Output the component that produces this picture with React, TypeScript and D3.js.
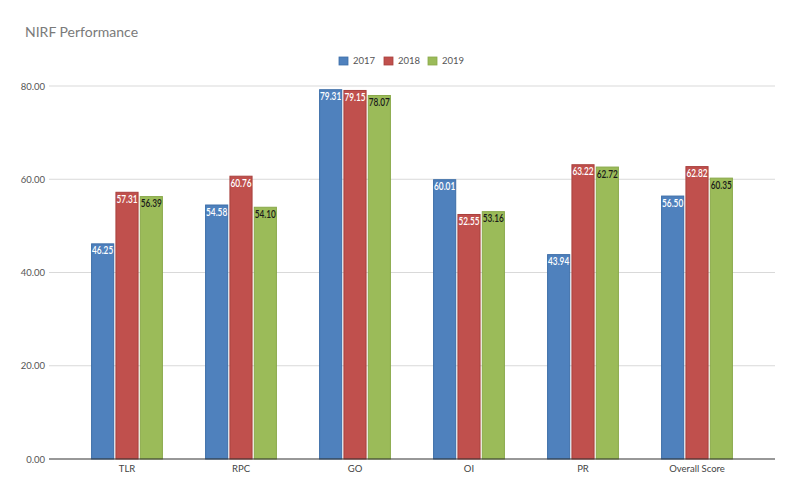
import { format, scaleBand, scaleLinear } from 'd3';

const categories = ['TLR', 'RPC', 'GO', 'OI', 'PR', 'Overall Score'];
const seriesNames = ['2017', '2018', '2019'];
const values2017 = [46.25, 54.58, 79.31, 60.01, 43.94, 56.5];
const values2018 = [57.31, 60.76, 79.15, 52.55, 63.22, 62.82];
const values2019 = [56.39, 54.1, 78.07, 53.16, 62.72, 60.35];
const yTicks = [0, 20, 40, 60, 80];

const seriesValues = [values2017, values2018, values2019];
const fills = ['#4f81bd', '#c0504d', '#9bbb59'];
const strokes = ['#3d6ea8', '#a9403d', '#89a94a'];
const labelColors = ['#ffffff', '#ffffff', '#1a1a1a'];

const width = 800;
const height = 498;
const plot = { left: 49, right: 775, top: 86, bottom: 459 };
const fontFamily = 'Lato, "Open Sans", sans-serif';

const fmt = format('.2f');

export default function App() {
  const xScale = scaleBand<string>()
    .domain(categories)
    .range([70, 754])
    .paddingInner(0.37)
    .paddingOuter(0.185);

  const innerScale = scaleBand<string>()
    .domain(seriesNames)
    .range([0, xScale.bandwidth()])
    .paddingInner(0.05);

  const yScale = scaleLinear().domain([0, 80]).range([plot.bottom, plot.top]);

  const legendX = [339, 384, 428];

  return (
    <svg
      width={width}
      height={height}
      viewBox={`0 0 ${width} ${height}`}
      style={{ position: 'absolute', left: 0, top: 0, background: '#fff' }}
      fontFamily={fontFamily}
    >
      <rect width={width} height={height} fill="#ffffff" />
      <text x={25} y={37} fontSize={14} fill="#7a7a7a">NIRF Performance</text>

      {seriesNames.map((name, i) => (
        <g key={name}>
          <rect x={legendX[i]} y={57} width={9} height={8} fill={fills[i]} stroke={strokes[i]} strokeWidth={0.8} />
          <text x={legendX[i] + 14} y={64} fontSize={9.5} fill="#555">{name}</text>
        </g>
      ))}

      {yTicks.map(tick => (
        <g key={tick}>
          {tick !== 0 && (
            <line x1={plot.left} x2={plot.right} y1={yScale(tick)} y2={yScale(tick)} stroke="#d9d9d9" strokeWidth={1} />
          )}
          <text x={45} y={yScale(tick) + 3.5} textAnchor="end" fontSize={9.5} fill="#555">
            {fmt(tick)}
          </text>
        </g>
      ))}

      {categories.map((cat, ci) => {
        const x0 = xScale(cat) ?? 0;
        return (
          <g key={cat}>
            {seriesNames.map((name, si) => {
              const v = seriesValues[si][ci];
              const x = x0 + (innerScale(name) ?? 0);
              const w = innerScale.bandwidth();
              const top = yScale(v);
              return (
                <g key={name}>
                  <rect
                    x={x + 0.5}
                    y={top + 0.5}
                    width={w - 1}
                    height={plot.bottom - top - 0.5}
                    fill={fills[si]}
                    stroke={strokes[si]}
                    strokeWidth={1}
                  />
                  <text
                    x={x + w / 2}
                    y={top + 11}
                    textAnchor="middle"
                    fontSize={10.5}
                    fontWeight={600}
                    textLength={w - 2}
                    lengthAdjust="spacingAndGlyphs"
                    fill={labelColors[si]}
                  >
                    {fmt(v)}
                  </text>
                </g>
              );
            })}
            <text x={x0 + xScale.bandwidth() / 2} y={472} textAnchor="middle" fontSize={9.5} fill="#444">
              {cat}
            </text>
          </g>
        );
      })}

      <line x1={plot.left} x2={plot.right} y1={plot.bottom} y2={plot.bottom} stroke="#333" strokeWidth={1.2} />
    </svg>
  );
}
